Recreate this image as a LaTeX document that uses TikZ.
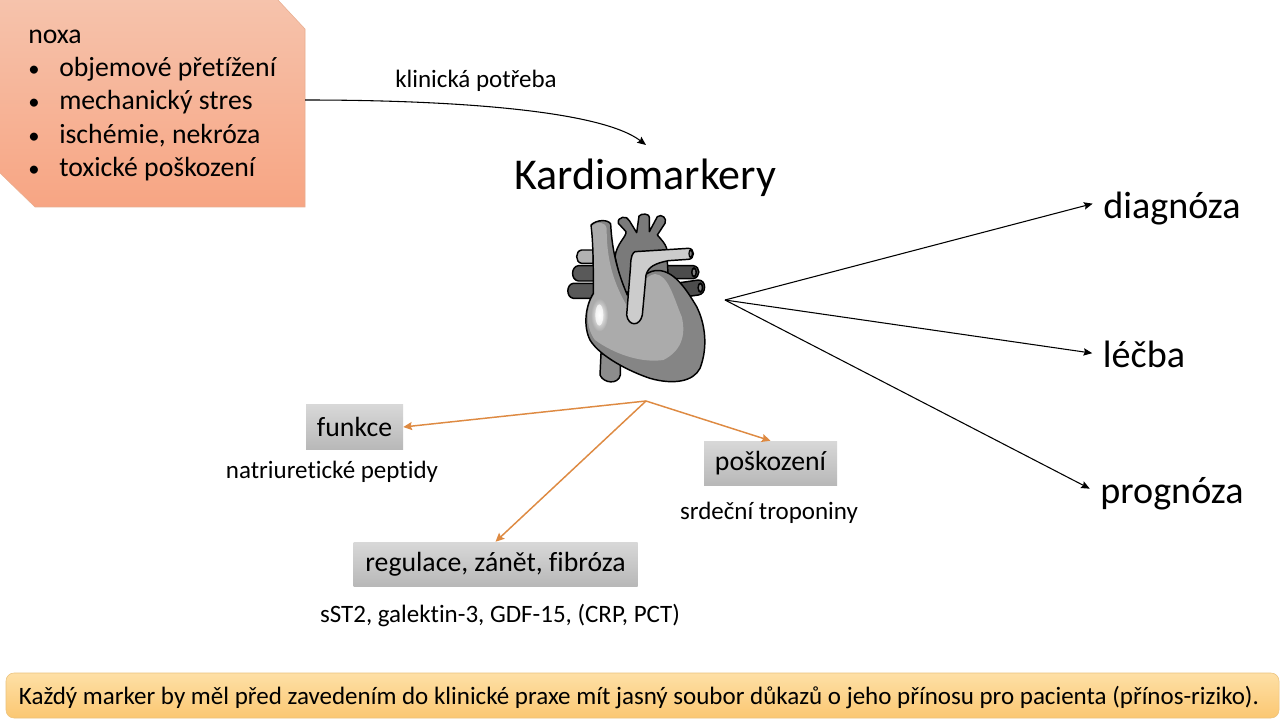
\documentclass[tikz,border=0pt]{standalone}
\usepackage{fontspec}
\setmainfont[Ligatures=NoCommon]{Carlito}
\usetikzlibrary{arrows.meta,shadings}
\definecolor{NoxaTop}{HTML}{F6C3AC}
\definecolor{NoxaBottom}{HTML}{F7A583}
\definecolor{NoxaLine}{HTML}{E8AD8F}
\definecolor{NoteTop}{HTML}{FEE0A6}
\definecolor{NoteBottom}{HTML}{FBC772}
\definecolor{NoteLine}{HTML}{EBC27C}
\definecolor{BoxTop}{HTML}{D8D8D8}
\definecolor{BoxBottom}{HTML}{B8B8B8}
\definecolor{ForkOrange}{HTML}{DE8A42}
\tikzset{
  boxgray/.style={top color=BoxTop,bottom color=BoxBottom,inner sep=0pt,font=\fontsize{20.8}{24}\selectfont},
  caption/.style={inner sep=0pt,font=\fontsize{18.75}{22}\selectfont},
  outcome/.style={inner sep=0pt,outer sep=8pt,font=\fontsize{28.6}{33}\selectfont},
  blackline/.style={line width=0.8pt,-{Stealth[length=6.5pt,width=5.5pt,inset=1pt]}},
  forkline/.style={ForkOrange,line width=1.1pt,-{Stealth[length=6.5pt,width=6pt,inset=1pt]}},
  outline/.style={draw=black,line width=1.1pt,line join=round},
}
\begin{document}
\begin{tikzpicture}[x=0.75pt,y=-0.75pt]
    \useasboundingbox (0,0) rectangle (1280,720);
    \fill[white] (0,0) rectangle (1280,720);
    % noxa box
    \path[draw=NoxaLine,top color=NoxaTop,bottom color=NoxaBottom] (-1,-1) -- (277,-1) -- (305,29) -- (305,207) -- (35,207) -- (-1,172) -- cycle;
    \node[inner sep=0pt,anchor=north west] (noxa) at (28,19.5) {\fontsize{20.8}{25}\selectfont\begin{tabular}{@{}p{23.25pt}@{}l@{}}
      \multicolumn{2}{@{}l}{noxa}\\
      {\fontsize{17}{17}\selectfont•}&objemové přetížení\\
      {\fontsize{17}{17}\selectfont•}&mechanický stres\\
      {\fontsize{17}{17}\selectfont•}&ischémie, nekróza\\
      {\fontsize{17}{17}\selectfont•}&toxické poškození
    \end{tabular}};
    \coordinate (noxaout) at (305,100);
    \node[caption] (need) at (476,80.5) {klinická potřeba};
    \node[inner sep=0pt,font=\fontsize{33}{40}\selectfont] (title) at (645,178) {Kardiomarkery};
    \coordinate (titlein) at (646,145);
    \draw[blackline] (noxaout) .. controls (450,100) and (600,110) .. (titlein);
    % heart
    \begin{scope}[shift={(540,200)},x=0.25pt,y=-0.25pt]
      \fill[black!30,outline] (160,150) -- (125,150) .. controls (105,152) and (105,188) .. (125,190) -- (160,190) -- cycle;
      \fill[black!65,outline] (165,197) -- (115,197) .. controls (92,200) and (92,240) .. (115,243) -- (165,243) -- cycle;
      \fill[black!65,outline] (165,250) -- (100,250) .. controls (78,253) and (78,292) .. (100,295) -- (165,295) -- cycle;
      \fill[black!70,outline] (380,197) -- (460,197) .. controls (482,200) and (482,232) .. (460,236) -- (380,236) -- cycle;
      \fill[black!70,outline] (420,248) -- (475,240) .. controls (500,240) and (500,282) .. (475,285) -- (440,290) -- cycle;
      \fill[black] (462,217) ellipse (9 and 16);
      \fill[black] (481,263) ellipse (9 and 16);
      \fill[black!50] (462,217) ellipse (4 and 9);
      \fill[black!50] (481,263) ellipse (4 and 9);
      \fill[black!52,outline] (225,170) .. controls (230,130) and (260,110) .. (258,95) -- (235,70) .. controls (230,50) and (262,45) .. (268,62) -- (290,98) -- (297,48) .. controls (305,38) and (330,42) .. (328,52) -- (328,95) -- (352,50) .. controls (365,40) and (382,55) .. (375,70) -- (352,105) .. controls (365,120) and (375,130) .. (380,145) -- (385,240) -- (250,280) -- cycle;
      \fill[black!45,outline] (183,460) -- (180,525) .. controls (190,550) and (235,555) .. (241,525) -- (241,480) -- cycle;
      \fill[black!48,outline] (153,75) .. controls (170,58) and (205,58) .. (212,72) .. controls (215,130) and (225,200) .. (262,285) .. controls (290,240) and (320,215) .. (345,212) .. controls (400,205) and (440,270) .. (470,320) .. controls (495,370) and (505,440) .. (480,505) .. controls (460,545) and (400,555) .. (330,535) .. controls (270,515) and (180,470) .. (150,420) .. controls (130,380) and (135,320) .. (160,280) .. controls (160,200) and (160,130) .. (153,75) -- cycle;
      \fill[black!33] (156,78) .. controls (170,64) and (195,64) .. (200,85) .. controls (200,170) and (215,240) .. (262,320) .. controls (290,260) and (320,225) .. (345,222) .. controls (385,225) and (400,290) .. (425,350) .. controls (440,410) and (420,455) .. (370,480) .. controls (300,490) and (220,460) .. (165,420) .. controls (135,380) and (138,320) .. (163,283) .. controls (163,200) and (163,130) .. (156,78) -- cycle;
      \shade[inner color=white,outer color=black!33] (178,345) ellipse (26 and 50);
      \fill[white,opacity=.7] (178,345) ellipse (12 and 32);
      \fill[black!20,outline] (285,155) -- (445,145) .. controls (465,145) and (465,178) .. (445,178) -- (385,182) .. controls (345,190) and (325,200) .. (318,225) -- (307,345) .. controls (300,380) and (265,380) .. (260,345) -- (272,195) .. controls (272,170) and (278,158) .. (285,155) -- cycle;
      \fill[black] (452,161) ellipse (7 and 14);
      \fill[black!50] (452,161) ellipse (3 and 7);
    \end{scope}
    \coordinate (heartright) at (725,300);
    \coordinate (heartbottom) at (646,401);
    \node[outcome] (diag) at (1172,209) {diagnóza};
    \node[outcome] (lecba) at (1144,354.5) {léčba};
    \node[outcome] (prog) at (1172,494) {prognóza};
    \draw[blackline] (heartright) -- ([yshift=4pt]diag.west);
    \draw[blackline] (heartright) -- ([yshift=1pt]lecba.west);
    \draw[blackline] (heartright) -- ([yshift=4pt]prog.west);
    % gray boxes
    \node[boxgray,minimum width=97pt*0.75,minimum height=45pt*0.75] (funkce) at (354.5,427) {funkce};
    \node[boxgray,minimum width=133pt*0.75,minimum height=44pt*0.75] (poskoz) at (770.5,463) {poškození};
    \node[boxgray,minimum width=284pt*0.75,minimum height=44pt*0.75] (regul) at (495.5,564) {regulace, zánět, fibróza};
    \node[caption] (peptidy) at (332,471.5) {natriuretické peptidy};
    \node[caption] (tropon) at (769,512.5) {srdeční troponiny};
    \node[caption] (gal) at (500,615) {sST2, galektin-3, GDF-15, (CRP, PCT)};
    \draw[forkline] (heartbottom) -- (funkce.east);
    \draw[forkline] (heartbottom) -- (poskoz.north);
    \draw[forkline] (heartbottom) -- (regul.north);
    % bottom note
    \path[draw=NoteLine,top color=NoteTop,bottom color=NoteBottom,rounded corners=6pt] (6,718) -- (6,673) -- (1279,673) -- (1279,718) -- cycle;
    \node[inner sep=0pt,font=\fontsize{18.75}{22}\selectfont] (note) at (639,697) {Každý marker by měl před zavedením do klinické praxe mít jasný soubor důkazů o jeho přínosu pro pacienta (přínos-riziko).};
\end{tikzpicture}
\end{document}
